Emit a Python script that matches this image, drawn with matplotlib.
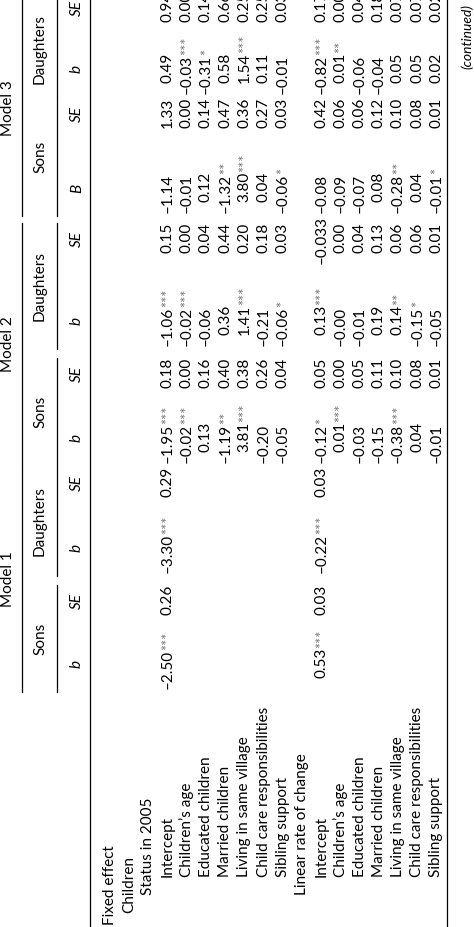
import matplotlib.pyplot as plt

plt.rcParams['font.family'] = ['Lato', 'DejaVu Sans']

row_labels = ["Fixed effect", "Children", "Status in 2005", "Intercept", "Children\u2019s age",
              "Educated children", "Married children", "Living in same village",
              "Child care responsibilities", "Sibling support", "Linear rate of change",
              "Intercept", "Children\u2019s age", "Educated children", "Married children",
              "Living in same village", "Child care responsibilities", "Sibling support"]
row_indent = [0, 1, 2, 3, 3, 3, 3, 3, 3, 3, 2, 3, 3, 3, 3, 3, 3, 3]

models = ["Model 1", "Model 2", "Model 3"]
groups = ["Sons", "Daughters"]
stat_labels = [["b", "SE", "b", "SE"], ["b", "SE", "b", "SE"], ["B", "SE", "b", "SE"]]

# each column: 7 status-in-2005 values then 7 linear-rate values ("" = empty)
m1_sons_b = ["-2.50***", "", "", "", "", "", "", "0.53***", "", "", "", "", "", ""]
m1_sons_se = ["0.26", "", "", "", "", "", "", "0.03", "", "", "", "", "", ""]
m1_dau_b = ["-3.30***", "", "", "", "", "", "", "-0.22***", "", "", "", "", "", ""]
m1_dau_se = ["0.29", "", "", "", "", "", "", "0.03", "", "", "", "", "", ""]
m2_sons_b = ["-1.95***", "-0.02***", "0.13", "-1.19**", "3.81***", "-0.20", "-0.05",
             "-0.12*", "0.01***", "-0.03", "-0.15", "-0.38***", "0.04", "-0.01"]
m2_sons_se = ["0.18", "0.00", "0.16", "0.40", "0.38", "0.26", "0.04",
              "0.05", "0.00", "0.05", "0.11", "0.10", "0.08", "0.01"]
m2_dau_b = ["-1.06***", "-0.02***", "-0.06", "0.36", "1.41***", "-0.21", "-0.06*",
            "0.13***", "-0.00", "-0.01", "0.19", "0.14**", "-0.15*", "-0.05"]
m2_dau_se = ["0.15", "0.00", "0.04", "0.44", "0.20", "0.18", "0.03",
             "-0.033", "0.00", "0.04", "0.13", "0.06", "0.06", "0.01"]
m3_sons_b = ["-1.14", "-0.01", "0.12", "-1.32**", "3.80***", "0.04", "-0.06*",
             "-0.08", "-0.09", "-0.07", "0.08", "-0.28**", "0.04", "-0.01*"]
m3_sons_se = ["1.33", "0.00", "0.14", "0.47", "0.36", "0.27", "0.03",
              "0.42", "0.06", "0.06", "0.12", "0.10", "0.08", "0.01"]
m3_dau_b = ["0.49", "-0.03***", "-0.31*", "0.58", "1.54***", "0.11", "-0.01",
            "-0.82***", "0.01**", "-0.06", "-0.04", "0.05", "0.05", "0.02"]
m3_dau_se = ["0.94", "0.00", "0.14", "0.66", "0.25", "0.25", "0.03",
             "0.17", "0.00", "0.04", "0.18", "0.07", "0.07", "0.02"]

columns = [m1_sons_b, m1_sons_se, m1_dau_b, m1_dau_se,
           m2_sons_b, m2_sons_se, m2_dau_b, m2_dau_se,
           m3_sons_b, m3_sons_se, m3_dau_b, m3_dau_se]

# layout (pixels, the table is printed rotated 90 degrees)
W, H = 474, 927
col_start = [678, 615, 562, 497, 452, 388, 335, 253, 202, 128, 83, 22]
data_rows = list(range(3, 10)) + list(range(11, 18))
row_x0, row_dx = 110, 19.2
minus_w = 11
fs = 11

fig = plt.figure(figsize=(W / 100, H / 100), dpi=100)
ax = fig.add_axes([0, 0, 1, 1])
ax.set_xlim(0, W)
ax.set_ylim(H, 0)
ax.axis('off')

def rx(i):
    return row_x0 + row_dx * i

# row labels
for i, (lab, ind) in enumerate(zip(row_labels, row_indent)):
    ax.text(rx(i), 925 - [0, 12, 30, 48][ind], lab, rotation=90, ha='center', va='bottom', fontsize=fs)

# values
for c, vals in enumerate(columns):
    for r, v in zip(data_rows, vals):
        if not v:
            continue
        num = v.rstrip('*')
        stars = v[len(num):]
        y = col_start[c] + (minus_w if num.startswith('-') else 0)
        t = ax.text(rx(r), y, num.replace('-', '\u2013'), rotation=90, ha='center', va='bottom', fontsize=fs)
        if stars:
            ax.annotate(stars, xy=(0.05, 1), xycoords=t, rotation=90, ha='left', va='bottom',
                        fontsize=fs - 0.5, color='#777777')

# headers
for m in range(3):
    for g in range(2):
        for s in range(2):
            c = m * 4 + g * 2 + s
            ax.text(77, col_start[c] - 14, stat_labels[m][g * 2 + s], rotation=90, ha='center',
                    va='center', fontsize=fs, style='italic')
        lo = col_start[m * 4 + g * 2] + 14
        hi = col_start[m * 4 + g * 2 + 1] - 30
        ax.plot([57, 57], [max(hi, 0), lo], color='black', lw=0.9)
        ax.text(40, (max(hi, 0) + lo) / 2, groups[g], rotation=90, ha='center', va='center', fontsize=fs)
    lo = col_start[m * 4] + 14
    hi = max(col_start[m * 4 + 3] - 30, 0)
    ax.plot([22, 22], [hi, lo], color='black', lw=0.9)
    ax.text(8, (hi + lo) / 2, models[m], rotation=90, ha='center', va='center', fontsize=fs)

ax.plot([90, 90], [0, H], color='black', lw=0.9)
ax.plot([447, 447], [0, H], color='black', lw=0.9)
ax.text(467, 36, "(continued)", rotation=90, ha='center', va='center', fontsize=fs - 1, style='italic')

fig.savefig("out.png", dpi=100)
